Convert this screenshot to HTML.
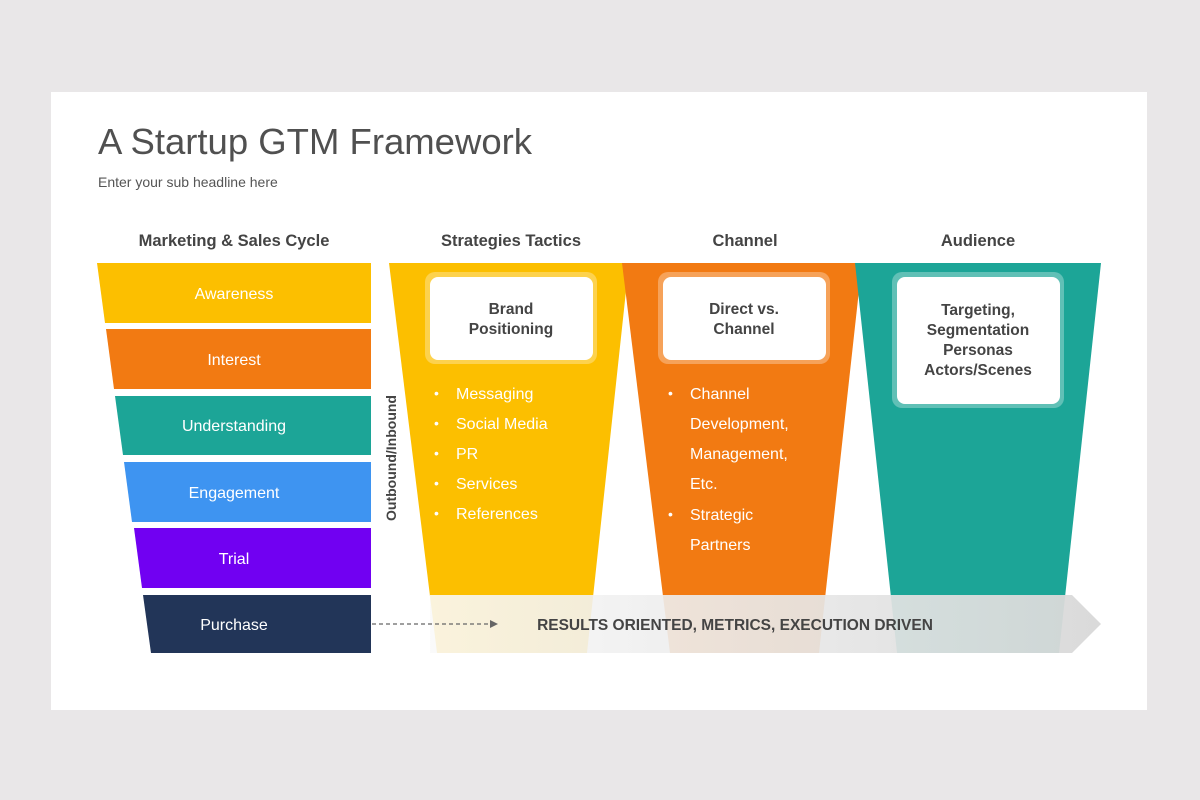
<!DOCTYPE html>
<html><head><meta charset="utf-8"><style>
body{margin:0;background:#e9e7e8;width:1200px;height:800px;overflow:hidden;font-family:"Liberation Sans",sans-serif}
</style></head><body>
<svg width="1200" height="800" xmlns="http://www.w3.org/2000/svg" style="position:absolute;left:0;top:0">
<defs>
<linearGradient id="g" x1="0" x2="1" y1="0" y2="0">
<stop offset="0" stop-color="#fafafa" stop-opacity="0.88"/>
<stop offset="1" stop-color="#d8d8d8" stop-opacity="0.95"/>
</linearGradient>
</defs>
<rect x="51" y="92" width="1096" height="618" fill="#fff"/>
<text x="98" y="154" font-size="36.5" fill="#505050" font-family="Liberation Sans">A Startup GTM Framework</text>
<text x="98" y="187" font-size="14" fill="#555">Enter your sub headline here</text>
<g font-size="16.5" font-weight="bold" fill="#444" text-anchor="middle">
<text x="234" y="246">Marketing &amp; Sales Cycle</text>
<text x="511" y="246">Strategies Tactics</text>
<text x="745" y="246">Channel</text>
<text x="978" y="246">Audience</text>
</g>
<polygon points="97,263 371,263 371,323 105,323" fill="#fcbf00"/>
<polygon points="106,329 371,329 371,389 114,389" fill="#f27a12"/>
<polygon points="115,396 371,396 371,455 123,455" fill="#1ca597"/>
<polygon points="124,462 371,462 371,522 132,522" fill="#3e94f1"/>
<polygon points="134,528 371,528 371,588 142,588" fill="#7100f2"/>
<polygon points="143,595 371,595 371,653 151,653" fill="#223558"/>
<g font-size="16" fill="#fff" text-anchor="middle">
<text x="234" y="299">Awareness</text>
<text x="234" y="365">Interest</text>
<text x="234" y="431">Understanding</text>
<text x="234" y="498">Engagement</text>
<text x="234" y="564">Trial</text>
<text x="234" y="630">Purchase</text>
</g>
<text transform="translate(396,458) rotate(-90)" font-size="14" font-weight="bold" fill="#444" text-anchor="middle">Outbound/Inbound</text>
<polygon points="389,263 629,263 587,653 437,653" fill="#fcbf00"/>
<polygon points="622,263 862,263 819,653 670,653" fill="#f27a12"/>
<polygon points="855,263 1101,263 1059,653 897,653" fill="#1ca597"/>
<rect x="425" y="272" width="172" height="92" rx="10" fill="#fff" opacity="0.3"/>
<rect x="430" y="277" width="163" height="83" rx="8" fill="#fff"/>
<rect x="658" y="272" width="172" height="92" rx="10" fill="#fff" opacity="0.3"/>
<rect x="663" y="277" width="163" height="83" rx="8" fill="#fff"/>
<rect x="892" y="272" width="172" height="136" rx="10" fill="#fff" opacity="0.3"/>
<rect x="897" y="277" width="163" height="127" rx="8" fill="#fff"/>
<g font-size="15.5" font-weight="bold" fill="#444" text-anchor="middle">
<text x="511" y="314">Brand</text><text x="511" y="334">Positioning</text>
<text x="744" y="314">Direct vs.</text><text x="744" y="334">Channel</text>
<text x="978" y="315">Targeting,</text><text x="978" y="335">Segmentation</text>
<text x="978" y="355">Personas</text><text x="978" y="375">Actors/Scenes</text>
</g>
<g font-size="16" fill="#fff">
<text x="434" y="398" font-size="14">•</text><text x="456" y="399">Messaging</text>
<text x="434" y="428" font-size="14">•</text><text x="456" y="429">Social Media</text>
<text x="434" y="458" font-size="14">•</text><text x="456" y="459">PR</text>
<text x="434" y="488" font-size="14">•</text><text x="456" y="489">Services</text>
<text x="434" y="518" font-size="14">•</text><text x="456" y="519">References</text>
<text x="668" y="398" font-size="14">•</text><text x="690" y="399">Channel</text>
<text x="690" y="429">Development,</text>
<text x="690" y="459">Management,</text>
<text x="690" y="489">Etc.</text>
<text x="668" y="519" font-size="14">•</text><text x="690" y="520">Strategic</text>
<text x="690" y="550">Partners</text>
</g>
<polygon points="430,595 1072,595 1101,624 1072,653 430,653" fill="url(#g)"/>
<text x="735" y="630" font-size="15.5" font-weight="bold" fill="#444" text-anchor="middle">RESULTS ORIENTED, METRICS, EXECUTION DRIVEN</text>
<line x1="372" y1="624" x2="491" y2="624" stroke="#666" stroke-width="1.3" stroke-dasharray="4,3"/>
<polygon points="498,624 490,620 490,628" fill="#666"/>
</svg>
</body></html>
